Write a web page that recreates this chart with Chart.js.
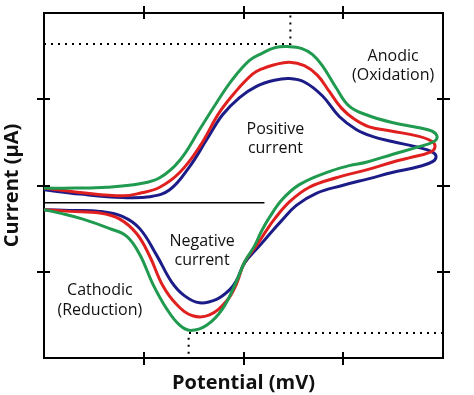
<!DOCTYPE html>
<html>
<head>
<meta charset="utf-8">
<script src="https://cdn.jsdelivr.net/npm/chart.js@4.4.1/dist/chart.umd.min.js"></script>
<style>
  html, body { margin: 0; padding: 0; background: #fff; }
  #wrap { width: 474px; height: 395px; }
</style>
</head>
<body>
<div id="wrap"><canvas id="cv"></canvas></div>
<script>
// scan path: x = potential, y = current (tick units)
const blueX = [0.00,0.36,0.79,1.06,1.26,1.46,1.63,1.79,1.96,2.13,2.31,2.46,2.61,2.79,2.96,3.13,3.29,3.49,3.76,3.89,3.93,
  3.90,3.76,3.49,3.26,2.99,2.73,2.53,2.38,2.28,2.16,2.01,1.93,1.86,1.73,1.56,1.41,1.28,1.13,0.96,0.79,0.56,0.26,0.00];
const blueY = [-0.05,-0.10,-0.14,-0.13,-0.05,0.22,0.53,0.82,1.02,1.15,1.22,1.24,1.20,1.04,0.80,0.65,0.57,0.51,0.44,0.39,0.34,
  0.28,0.22,0.15,0.08,0.00,-0.09,-0.23,-0.41,-0.54,-0.70,-0.90,-1.10,-1.21,-1.32,-1.36,-1.28,-1.12,-0.81,-0.50,-0.36,-0.30,-0.29,-0.28];

const redX = [0.00,0.36,0.79,0.96,1.16,1.36,1.56,1.76,1.93,2.09,2.18,2.31,2.46,2.61,2.74,2.86,2.98,3.11,3.26,3.49,3.76,3.89,3.92,
  3.88,3.66,3.49,3.26,2.93,2.66,2.46,2.31,2.23,2.14,2.01,1.93,1.83,1.66,1.49,1.33,1.19,1.06,0.93,0.76,0.56,0.26,0.00];
const redY = [-0.03,-0.08,-0.12,-0.09,-0.02,0.15,0.45,0.85,1.10,1.29,1.35,1.40,1.43,1.39,1.28,1.09,0.90,0.77,0.68,0.63,0.57,0.51,0.45,
  0.39,0.32,0.27,0.19,0.09,-0.02,-0.19,-0.39,-0.52,-0.68,-0.89,-1.14,-1.34,-1.50,-1.51,-1.38,-1.16,-0.82,-0.56,-0.39,-0.32,-0.30,-0.28];

const greenX = [0.00,0.31,0.63,0.96,1.16,1.36,1.56,1.73,1.89,2.06,2.18,2.32,2.46,2.58,2.69,2.79,2.93,3.06,3.23,3.49,3.76,3.89,3.94,
  3.91,3.76,3.49,3.23,3.06,2.83,2.56,2.39,2.26,2.18,2.11,2.01,1.93,1.79,1.63,1.47,1.36,1.23,1.09,0.96,0.83,0.66,0.39,0.16,0.00];
const greenY = [-0.03,-0.03,-0.02,0.02,0.09,0.29,0.65,0.96,1.23,1.45,1.53,1.60,1.61,1.59,1.52,1.39,1.13,0.92,0.82,0.73,0.67,0.63,0.57,
  0.51,0.45,0.36,0.27,0.23,0.15,0.01,-0.16,-0.37,-0.53,-0.70,-0.89,-1.11,-1.43,-1.62,-1.68,-1.62,-1.43,-1.14,-0.80,-0.59,-0.50,-0.39,-0.32,-0.28];

// guide lines
const baseLineX = [0, 2.21];
const baseLineY = [-0.20, -0.20];
const peakUpX = [0, 2.47, 2.47];
const peakUpY = [1.64, 1.64, 2];
const peakDownX = [4, 1.45, 1.45];
const peakDownY = [-1.71, -1.71, -2];

const xTicks = [1, 2, 3];
const yTicks = [-1, 0, 1];

const notes = [
  { lines: ['Anodic', '(Oxidation)'], x: 3.50, y: 1.385 },
  { lines: ['Positive', 'current'], x: 2.32, y: 0.54 },
  { lines: ['Negative', 'current'], x: 1.585, y: -0.76 },
  { lines: ['Cathodic', '(Reduction)'], x: 0.56, y: -1.33 }
];

const pts = (xs, ys) => xs.map((x, i) => ({ x: x, y: ys[i] }));

const curve = (data, color, order) => ({
  data: data, showLine: true, borderColor: color, borderWidth: 3,
  pointRadius: 0, tension: 0.4, fill: false, order: order
});
const guide = (data, dash) => ({
  data: data, showLine: true, borderColor: '#000', borderWidth: dash ? 2 : 1.5,
  borderDash: dash || [], pointRadius: 0, tension: 0, fill: false, order: 5
});

// ticks that cross the frame, like the original
const crossTicks = {
  id: 'crossTicks',
  afterDraw(chart) {
    const { ctx, chartArea: a, scales } = chart;
    ctx.save();
    ctx.strokeStyle = '#000';
    ctx.lineWidth = 2;
    ctx.beginPath();
    xTicks.forEach(v => {
      const px = Math.round(scales.x.getPixelForValue(v));
      ctx.moveTo(px, a.top - 7); ctx.lineTo(px, a.top + 6);
      ctx.moveTo(px, a.bottom - 6); ctx.lineTo(px, a.bottom + 7);
    });
    yTicks.forEach(v => {
      const py = Math.round(scales.y.getPixelForValue(v));
      ctx.moveTo(a.left - 7, py); ctx.lineTo(a.left + 6, py);
      ctx.moveTo(a.right - 6, py); ctx.lineTo(a.right + 7, py);
    });
    ctx.stroke();
    ctx.restore();
  }
};

const noteText = {
  id: 'noteText',
  afterDatasetsDraw(chart) {
    const { ctx, scales } = chart;
    ctx.save();
    ctx.fillStyle = '#111';
    ctx.font = '16px "Open Sans"';
    ctx.textAlign = 'center';
    ctx.textBaseline = 'middle';
    notes.forEach(n => {
      const cx = scales.x.getPixelForValue(n.x);
      const cy = scales.y.getPixelForValue(n.y);
      n.lines.forEach((t, i) => ctx.fillText(t, cx, cy + (i - (n.lines.length - 1) / 2) * 19.5));
    });
    ctx.restore();
  }
};

const frame = { display: true, color: '#000', width: 2 };
const titleFont = { family: 'Open Sans', size: 20, weight: 'bold' };

new Chart(document.getElementById('cv'), {
  type: 'scatter',
  data: {
    datasets: [
      curve(pts(blueX, blueY), '#1c1c88', 3),
      curve(pts(redX, redY), '#e01f1f', 2),
      curve(pts(greenX, greenY), '#1f9a4f', 1),
      guide(pts(baseLineX, baseLineY)),
      guide(pts(peakUpX, peakUpY), [2, 5]),
      guide(pts(peakDownX, peakDownY), [2, 5])
    ]
  },
  options: {
    responsive: true,
    maintainAspectRatio: false,
    animation: false,
    layout: { padding: 0 },
    plugins: { legend: { display: false }, tooltip: { enabled: false } },
    scales: {
      x: {
        type: 'linear', position: 'bottom', min: 0, max: 4,
        grid: { display: false }, ticks: { display: false }, border: frame,
        title: { display: true, text: 'Potential (mV)', color: '#111', font: titleFont, padding: { top: 0, bottom: 0 } },
        afterFit: s => { s.height = 37; }
      },
      x2: {
        type: 'linear', position: 'top', min: 0, max: 4,
        grid: { display: false }, ticks: { display: false }, border: frame,
        afterFit: s => { s.height = 13; }
      },
      y: {
        type: 'linear', position: 'left', min: -2, max: 2,
        grid: { display: false }, ticks: { display: false }, border: frame,
        title: { display: true, text: 'Current (µA)', color: '#111', font: titleFont, padding: { top: 0, bottom: 0 } },
        afterFit: s => { s.width = 44; }
      },
      y2: {
        type: 'linear', position: 'right', min: -2, max: 2,
        grid: { display: false }, ticks: { display: false }, border: frame,
        afterFit: s => { s.width = 31; }
      }
    }
  },
  plugins: [crossTicks, noteText]
});
</script>
</body>
</html>
